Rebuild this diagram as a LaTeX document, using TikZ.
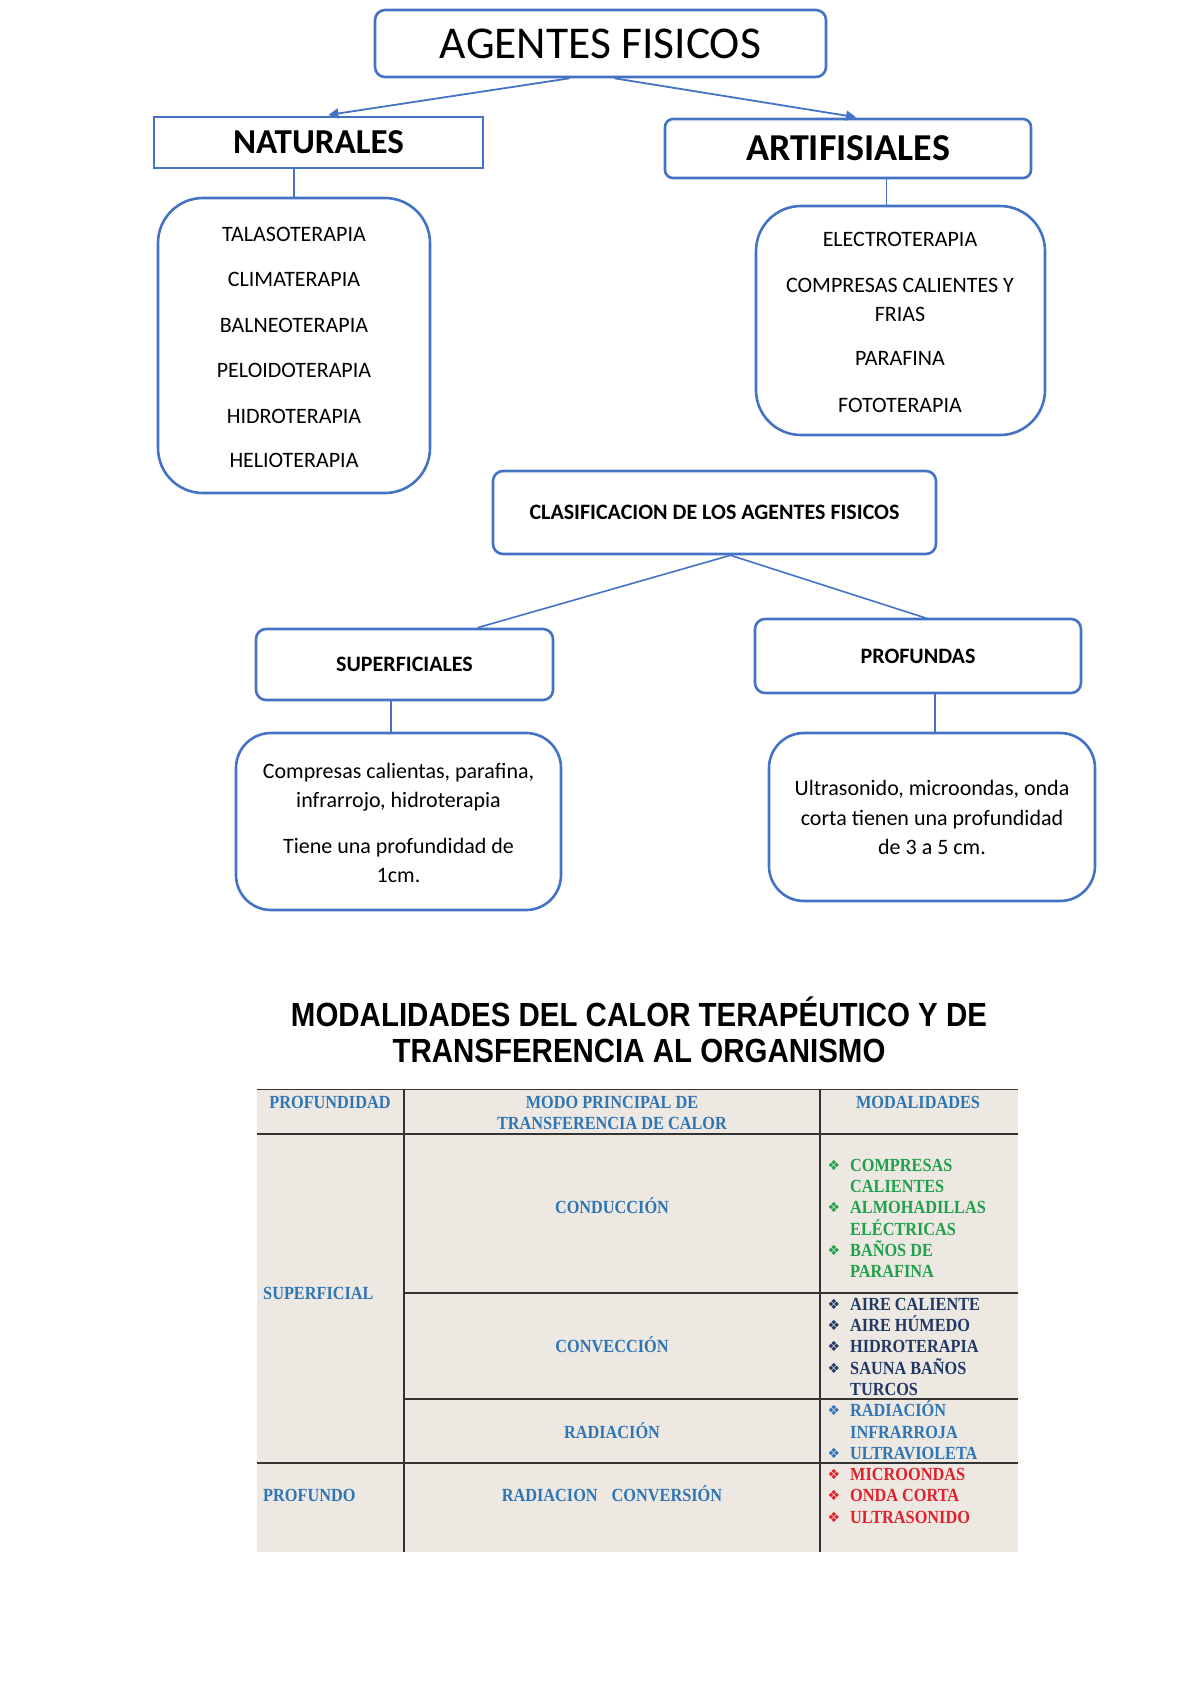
\documentclass[tikz,border=0pt]{standalone}
\usepackage{fontspec}
\setmainfont{Carlito}
\newfontfamily\titlefont[FakeStretch=0.88]{Liberation Sans}
\newfontfamily\tabfont[FakeStretch=0.88]{Liberation Serif}
\newfontfamily\symfont{DejaVu Sans}
\usetikzlibrary{arrows.meta}
\definecolor{boxblue}{HTML}{4472C4}
\definecolor{hdrblue}{HTML}{2E75B6}
\definecolor{tabbg}{HTML}{EEE8E2}
\definecolor{itgreen}{HTML}{1FA04A}
\definecolor{itnavy}{HTML}{1F3864}
\definecolor{itred}{HTML}{E0202A}
\begin{document}
\begin{tikzpicture}[x=1pt,y=-1pt,
  bx/.style={draw=boxblue, line width=2.6pt, inner sep=0pt, align=center},
  conn/.style={draw=boxblue, line width=1.6pt},
  arr/.style={draw=boxblue, line width=1.8pt, -{Triangle[length=10pt,width=10pt]}},
  lst/.style={font=\fontsize{22}{26}\selectfont, text height=14pt, text depth=0pt, inner sep=0pt},
  hb/.style={font=\bfseries\fontsize{22}{26}\selectfont},
  tab/.style={font=\tabfont\bfseries\fontsize{18.5}{21}\selectfont, text height=12.2pt, text depth=0pt, inner sep=0pt},
  bul/.style={font=\symfont\fontsize{14}{15}\selectfont, inner sep=0pt},
  ttl/.style={font=\titlefont\bfseries\fontsize{33.5}{38}\selectfont, text height=24pt, text depth=0pt, inner sep=0pt},
  tabline/.style={draw=black!80, line width=1.4pt}]
\useasboundingbox (0,0) rectangle (1200,1698);
\fill[white] (0,0) rectangle (1200,1698);

% top boxes
\node[bx, rounded corners=10pt, minimum width=451pt, minimum height=67pt, font=\fontsize{45.5}{50}\selectfont] (ag) at (600.5,43.5) {AGENTES FISICOS};
\node[bx, minimum width=329pt, minimum height=51pt, font=\bfseries\fontsize{35}{40}\selectfont] (nat) at (318.5,142.5) {NATURALES};
\node[bx, rounded corners=8pt, minimum width=366pt, minimum height=59pt, font=\bfseries\fontsize{38}{42}\selectfont] (art) at (848,148.5) {ARTIFISIALES};
\draw[arr, shorten >=5pt] ([xshift=-31pt]ag.south) -- ([xshift=5pt]nat.north);
\draw[arr, shorten >=3pt] ([xshift=14pt]ag.south) -- ([xshift=11pt]art.north);

% naturales list
\node[bx, rounded corners=45pt, minimum width=272pt, minimum height=295pt] (natl) at (294,345.5) {};
\draw[conn] (natl.north) -- (natl.north |- nat.south);
\node[lst] (n1) at (294,234) {TALASOTERAPIA};
\node[lst] (n2) at (294,279.5) {CLIMATERAPIA};
\node[lst] (n3) at (294,325) {BALNEOTERAPIA};
\node[lst] (n4) at (294,370.5) {PELOIDOTERAPIA};
\node[lst] (n5) at (294,416) {HIDROTERAPIA};
\node[lst] (n6) at (294,460.5) {HELIOTERAPIA};

% artificiales list
\node[bx, rounded corners=45pt, minimum width=289pt, minimum height=229pt] (artl) at (900.5,320.5) {};
\draw[conn] ([xshift=-14pt]artl.north) -- ([xshift=-14pt]artl.north |- art.south);
\node[lst] (a1) at (900,239.5) {ELECTROTERAPIA};
\node[lst] (a2) at (900,285) {COMPRESAS CALIENTES Y};
\node[lst] (a3) at (900,314) {FRIAS};
\node[lst] (a4) at (900,358.5) {PARAFINA};
\node[lst] (a5) at (900,405) {FOTOTERAPIA};

% clasificacion
\node[bx, rounded corners=10pt, minimum width=443pt, minimum height=83pt, hb] (cla) at (714.5,512.5) {CLASIFICACION DE LOS AGENTES FISICOS};
\node[bx, rounded corners=10pt, minimum width=297pt, minimum height=71pt, hb] (sup) at (404.5,664.5) {SUPERFICIALES};
\node[bx, rounded corners=10pt, minimum width=326pt, minimum height=74pt, hb] (pro) at (918,656) {PROFUNDAS};
\draw[conn] ([xshift=16pt]cla.south) -- ([xshift=73pt]sup.north);
\draw[conn] ([xshift=16pt]cla.south) -- ([xshift=13pt,yshift=-2pt]pro.north);

\node[bx, rounded corners=35pt, minimum width=325pt, minimum height=177pt] (supt) at (398.5,821.5) {};
\node[bx, rounded corners=35pt, minimum width=326pt, minimum height=168pt] (prot) at (932,817) {};
\draw[conn] ([xshift=-7.5pt]supt.north) -- ([xshift=-7.5pt]supt.north |- sup.south);
\draw[conn] ([xshift=3pt]prot.north) -- ([xshift=3pt]prot.north |- pro.south);
\node[lst] (s1) at (398.5,771) {Compresas calientas, parafina,};
\node[lst] (s2) at (398.5,800) {infrarrojo, hidroterapia};
\node[lst] (s3) at (398.5,846) {Tiene una profundidad de};
\node[lst] (s4) at (398.5,875) {1cm.};
\node[lst] (p1) at (932,788.5) {Ultrasonido, microondas, onda};
\node[lst] (p2) at (932,818) {corta tienen una profundidad};
\node[lst] (p3) at (932,847) {de 3 a 5 cm.};

% title
\node[ttl] (t1) at (639,1014) {MODALIDADES DEL CALOR TERAPÉUTICO Y DE};
\node[ttl] (t2) at (639,1050.5) {TRANSFERENCIA AL ORGANISMO};

% table
\fill[tabbg] (257,1089.5) rectangle (1018,1552);
\draw[tabline] (257,1089.5) -- (1018,1089.5);
\draw[tabline] (257,1134) -- (1018,1134);
\draw[tabline] (404,1293) -- (1018,1293);
\draw[tabline] (404,1399) -- (1018,1399);
\draw[tabline] (257,1463) -- (1018,1463);
\draw[tabline] (404,1089.5) -- (404,1552);
\draw[tabline] (820,1089.5) -- (820,1552);

\node[tab, text=hdrblue] (h1) at (330,1102.5) {PROFUNDIDAD};
\node[tab, text=hdrblue] (h2) at (612,1102.5) {MODO PRINCIPAL DE};
\node[tab, text=hdrblue] (h3) at (612,1123) {TRANSFERENCIA DE CALOR};
\node[tab, text=hdrblue] (h4) at (918,1102.5) {MODALIDADES};
\node[tab, text=hdrblue, anchor=west] (c1) at (263,1293) {SUPERFICIAL};
\node[tab, text=hdrblue, anchor=west] (c2) at (263,1495.5) {PROFUNDO};
\node[tab, text=hdrblue] (m1) at (612,1207.5) {CONDUCCIÓN};
\node[tab, text=hdrblue] (m2) at (612,1346) {CONVECCIÓN};
\node[tab, text=hdrblue] (m3) at (612,1432) {RADIACIÓN};
\node[tab, text=hdrblue] (m4) at (612,1495.5) {RADIACION\hspace{14pt}CONVERSIÓN};

\foreach \t/\y/\b [count=\i] in {COMPRESAS/1165/1, CALIENTES/1186.5/0, ALMOHADILLAS/1207.5/1, ELÉCTRICAS/1229/0, BAÑOS DE/1250.5/1, PARAFINA/1271.5/0}{
  \node[tab, anchor=west, text=itgreen] (g\i) at (850,\y) {\t};
  \ifnum\b=1 \node[bul, text=itgreen] (gb\i) at (834,\y) {❖};\fi
}
\foreach \t/\y/\b [count=\i] in {AIRE CALIENTE/1304/1, AIRE HÚMEDO/1325.5/1, HIDROTERAPIA/1346.5/1, SAUNA BAÑOS/1368/1, TURCOS/1389.5/0}{
  \node[tab, anchor=west, text=itnavy] (v\i) at (850,\y) {\t};
  \ifnum\b=1 \node[bul, text=itnavy] (vb\i) at (834,\y) {❖};\fi
}
\foreach \t/\y/\b [count=\i] in {RADIACIÓN/1410.5/1, INFRARROJA/1432/0, ULTRAVIOLETA/1453.5/1}{
  \node[tab, anchor=west, text=hdrblue] (r\i) at (850,\y) {\t};
  \ifnum\b=1 \node[bul, text=hdrblue] (rb\i) at (834,\y) {❖};\fi
}
\foreach \t/\y/\b [count=\i] in {MICROONDAS/1474/1, ONDA CORTA/1495.5/1, ULTRASONIDO/1517/1}{
  \node[tab, anchor=west, text=itred] (d\i) at (850,\y) {\t};
  \ifnum\b=1 \node[bul, text=itred] (db\i) at (834,\y) {❖};\fi
}
\end{tikzpicture}
\end{document}
